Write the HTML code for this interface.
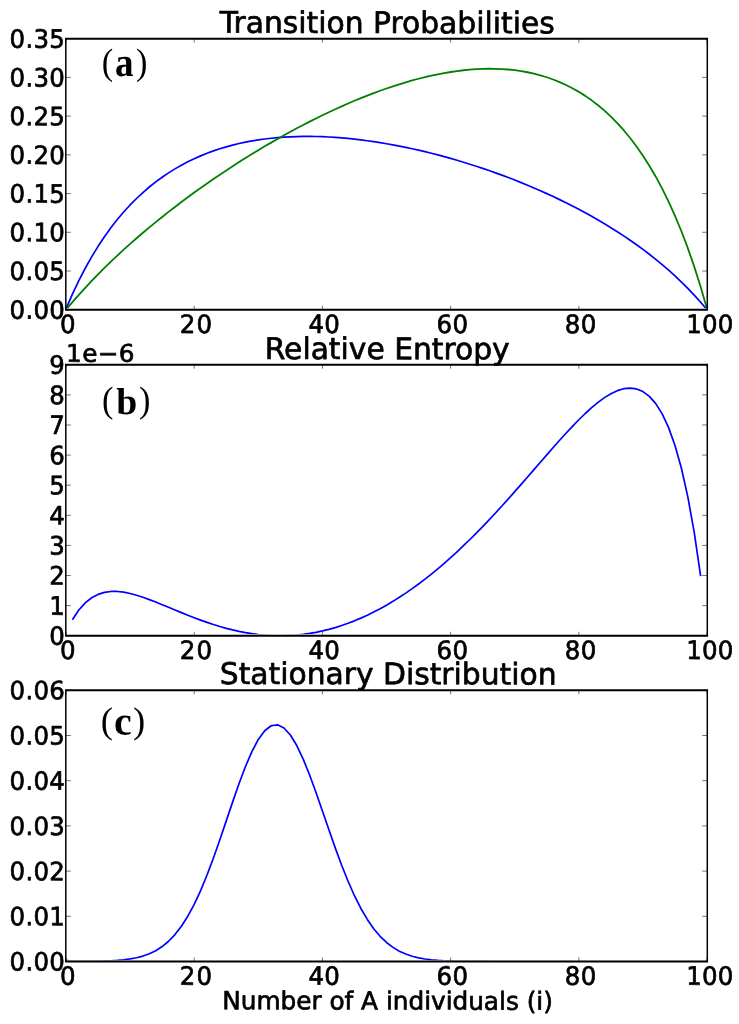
<!DOCTYPE html>
<html lang="en"><head><meta charset="utf-8"><title>Transition Probabilities, Relative Entropy, Stationary Distribution</title>
<style>html,body{margin:0;padding:0;background:#fff}body{width:739px;height:1024px;overflow:hidden}svg{display:block}text{white-space:pre;text-rendering:geometricPrecision}</style>
</head><body>
<svg width="739" height="1024" viewBox="0 0 739 1024">
<rect width="739" height="1024" fill="#fff"/>
<g class="panel">
<clipPath id="cp0"><rect x="66.00" y="38.65" width="641.05" height="269.60"/></clipPath>
<g clip-path="url(#cp0)" fill="none" stroke-width="1.70" stroke-linejoin="round" stroke-linecap="butt">
<path d="M66.00,308.98 L72.41,294.19 L78.82,280.66 L85.23,268.24 L91.64,256.84 L98.05,246.34 L104.46,236.68 L110.87,227.77 L117.28,219.56 L123.69,211.97 L130.11,204.97 L136.52,198.50 L142.93,192.52 L149.34,187.00 L155.75,181.91 L162.16,177.20 L168.57,172.86 L174.98,168.87 L181.39,165.19 L187.80,161.81 L194.21,158.70 L200.62,155.86 L207.03,153.27 L213.44,150.91 L219.85,148.77 L226.26,146.83 L232.67,145.10 L239.08,143.54 L245.49,142.16 L251.90,140.95 L258.31,139.90 L264.73,139.00 L271.14,138.25 L277.55,137.63 L283.96,137.14 L290.37,136.78 L296.78,136.54 L303.19,136.42 L309.60,136.41 L316.01,136.50 L322.42,136.70 L328.83,137.00 L335.24,137.40 L341.65,137.89 L348.06,138.47 L354.47,139.14 L360.88,139.89 L367.29,140.73 L373.70,141.64 L380.11,142.64 L386.52,143.72 L392.94,144.86 L399.35,146.09 L405.76,147.39 L412.17,148.75 L418.58,150.19 L424.99,151.70 L431.40,153.28 L437.81,154.93 L444.22,156.65 L450.63,158.43 L457.04,160.28 L463.45,162.20 L469.86,164.19 L476.27,166.25 L482.68,168.37 L489.09,170.56 L495.50,172.83 L501.91,175.16 L508.32,177.57 L514.74,180.05 L521.15,182.60 L527.56,185.23 L533.97,187.94 L540.38,190.73 L546.79,193.60 L553.20,196.56 L559.61,199.61 L566.02,202.74 L572.43,205.98 L578.84,209.31 L585.25,212.75 L591.66,216.29 L598.07,219.96 L604.48,223.74 L610.89,227.65 L617.30,231.69 L623.71,235.88 L630.12,240.23 L636.53,244.73 L642.94,249.41 L649.36,254.28 L655.77,259.36 L662.18,264.65 L668.59,270.18 L675.00,275.97 L681.41,282.04 L687.82,288.42 L694.23,295.14 L700.64,302.24 L707.05,309.75" stroke="#0000ff"/>
<path d="M66.00,309.75 L72.41,302.16 L78.82,294.85 L85.23,287.80 L91.64,280.97 L98.05,274.36 L104.46,267.94 L110.87,261.70 L117.28,255.63 L123.69,249.71 L130.11,243.94 L136.52,238.30 L142.93,232.79 L149.34,227.40 L155.75,222.12 L162.16,216.96 L168.57,211.89 L174.98,206.93 L181.39,202.06 L187.80,197.28 L194.21,192.60 L200.62,188.00 L207.03,183.48 L213.44,179.04 L219.85,174.69 L226.26,170.41 L232.67,166.21 L239.08,162.09 L245.49,158.04 L251.90,154.07 L258.31,150.17 L264.73,146.35 L271.14,142.60 L277.55,138.92 L283.96,135.32 L290.37,131.79 L296.78,128.33 L303.19,124.96 L309.60,121.65 L316.01,118.43 L322.42,115.29 L328.83,112.22 L335.24,109.24 L341.65,106.33 L348.06,103.52 L354.47,100.79 L360.88,98.14 L367.29,95.59 L373.70,93.13 L380.11,90.77 L386.52,88.50 L392.94,86.33 L399.35,84.27 L405.76,82.32 L412.17,80.48 L418.58,78.75 L424.99,77.14 L431.40,75.65 L437.81,74.30 L444.22,73.07 L450.63,71.99 L457.04,71.04 L463.45,70.25 L469.86,69.61 L476.27,69.14 L482.68,68.84 L489.09,68.72 L495.50,68.78 L501.91,69.04 L508.32,69.51 L514.74,70.19 L521.15,71.10 L527.56,72.25 L533.97,73.65 L540.38,75.31 L546.79,77.26 L553.20,79.51 L559.61,82.07 L566.02,84.97 L572.43,88.22 L578.84,91.85 L585.25,95.88 L591.66,100.34 L598.07,105.26 L604.48,110.67 L610.89,116.60 L617.30,123.10 L623.71,130.21 L630.12,137.97 L636.53,146.44 L642.94,155.67 L649.36,165.72 L655.77,176.68 L662.18,188.62 L668.59,201.63 L675.00,215.81 L681.41,231.28 L687.82,248.17 L694.23,266.63 L700.64,286.84 L707.05,308.98" stroke="#008000" stroke-width="1.8"/>
</g>
<path d="M66.00,309.75 v-4.00 M66.00,38.65 v4.00 M194.21,309.75 v-4.00 M194.21,38.65 v4.00 M322.42,309.75 v-4.00 M322.42,38.65 v4.00 M450.63,309.75 v-4.00 M450.63,38.65 v4.00 M578.84,309.75 v-4.00 M578.84,38.65 v4.00 M707.05,309.75 v-4.00 M707.05,38.65 v4.00 M65.80,309.75 h5.10 M707.30,309.75 h-5.10 M65.80,271.02 h5.10 M707.30,271.02 h-5.10 M65.80,232.29 h5.10 M707.30,232.29 h-5.10 M65.80,193.56 h5.10 M707.30,193.56 h-5.10 M65.80,154.84 h5.10 M707.30,154.84 h-5.10 M65.80,116.11 h5.10 M707.30,116.11 h-5.10 M65.80,77.38 h5.10 M707.30,77.38 h-5.10 M65.80,38.65 h5.10 M707.30,38.65 h-5.10" stroke="#000" stroke-width="0.55" fill="none"/>
<path d="M65.05,38.65 H708.05 M65.05,309.75 H708.05" stroke="#000" stroke-width="2.00" fill="none"/>
<path d="M65.80,38.65 V309.75 M707.30,38.65 V309.75" stroke="#000" stroke-width="1.50" fill="none"/>
<g font-family="'DejaVu Sans','Liberation Sans',sans-serif" font-size="25.30" fill="#000" stroke="#000" stroke-width="0.70" stroke-linejoin="round" letter-spacing="0.3">
<text transform="translate(65.20,318.85) rotate(0.10) scale(0.9660,1)" text-anchor="end">0.00</text>
<text transform="translate(65.20,280.12) rotate(0.10) scale(0.9660,1)" text-anchor="end">0.05</text>
<text transform="translate(65.20,241.39) rotate(0.10) scale(0.9660,1)" text-anchor="end">0.10</text>
<text transform="translate(65.20,202.66) rotate(0.10) scale(0.9660,1)" text-anchor="end">0.15</text>
<text transform="translate(65.20,163.94) rotate(0.10) scale(0.9660,1)" text-anchor="end">0.20</text>
<text transform="translate(65.20,125.21) rotate(0.10) scale(0.9660,1)" text-anchor="end">0.25</text>
<text transform="translate(65.20,86.48) rotate(0.10) scale(0.9660,1)" text-anchor="end">0.30</text>
<text transform="translate(65.20,47.75) rotate(0.10) scale(0.9660,1)" text-anchor="end">0.35</text>
<text transform="translate(67.80,333.00) rotate(0.10) scale(0.9660,1)" text-anchor="middle">0</text>
<text transform="translate(196.41,333.00) rotate(0.10) scale(0.9660,1)" text-anchor="middle" letter-spacing="1.10">20</text>
<text transform="translate(324.22,333.00) rotate(0.10) scale(0.9660,1)" text-anchor="middle">40</text>
<text transform="translate(452.43,333.00) rotate(0.10) scale(0.9660,1)" text-anchor="middle">60</text>
<text transform="translate(580.64,333.00) rotate(0.10) scale(0.9660,1)" text-anchor="middle">80</text>
<text transform="translate(709.95,333.00) rotate(0.10) scale(0.9660,1)" text-anchor="middle">100</text>
</g>
<text transform="translate(387.22,33.05) rotate(0.10) scale(0.9980,1)" text-anchor="middle" font-family="'DejaVu Sans','Liberation Sans',sans-serif" font-size="29.80" fill="#000" stroke="#000" stroke-width="0.70" stroke-linejoin="round">Transition Probabilities</text>
<text transform="translate(101.85,74.16) rotate(0.1) scale(0.8564,0.9264)" font-family="'Liberation Serif','DejaVu Serif',serif" font-size="40" fill="#000"><tspan x="0" y="0">(</tspan><tspan x="15.31" y="2.04" font-size="44.17" font-weight="bold" textLength="21.67" lengthAdjust="spacingAndGlyphs">a</tspan><tspan x="39.94" y="0">)</tspan></text>
</g>
<g class="panel">
<clipPath id="cp1"><rect x="66.00" y="364.75" width="641.05" height="269.50"/></clipPath>
<g clip-path="url(#cp1)" fill="none" stroke-width="1.70" stroke-linejoin="round" stroke-linecap="butt">
<path d="M72.41,619.71 L78.82,610.03 L85.23,602.86 L91.64,597.77 L98.05,594.38 L104.46,592.37 L110.87,591.47 L117.28,591.47 L123.69,592.19 L130.11,593.48 L136.52,595.21 L142.93,597.27 L149.34,599.59 L155.75,602.08 L162.16,604.68 L168.57,607.33 L174.98,610.00 L181.39,612.65 L187.80,615.24 L194.21,617.74 L200.62,620.14 L207.03,622.41 L213.44,624.54 L219.85,626.51 L226.26,628.31 L232.67,629.93 L239.08,631.37 L245.49,632.61 L251.90,633.65 L258.31,634.49 L264.73,635.12 L271.14,635.53 L277.55,635.73 L283.96,635.71 L290.37,635.47 L296.78,635.02 L303.19,634.34 L309.60,633.43 L316.01,632.30 L322.42,630.95 L328.83,629.38 L335.24,627.58 L341.65,625.55 L348.06,623.31 L354.47,620.84 L360.88,618.14 L367.29,615.22 L373.70,612.09 L380.11,608.73 L386.52,605.15 L392.94,601.35 L399.35,597.33 L405.76,593.10 L412.17,588.66 L418.58,584.00 L424.99,579.13 L431.40,574.06 L437.81,568.79 L444.22,563.31 L450.63,557.64 L457.04,551.78 L463.45,545.73 L469.86,539.50 L476.27,533.10 L482.68,526.54 L489.09,519.82 L495.50,512.96 L501.91,505.97 L508.32,498.86 L514.74,491.65 L521.15,484.36 L527.56,477.01 L533.97,469.62 L540.38,462.22 L546.79,454.84 L553.20,447.52 L559.61,440.30 L566.02,433.23 L572.43,426.36 L578.84,419.76 L585.25,413.50 L591.66,407.65 L598.07,402.33 L604.48,397.63 L610.89,393.69 L617.30,390.66 L623.71,388.72 L630.12,388.06 L636.53,388.92 L642.94,391.58 L649.36,396.36 L655.77,403.65 L662.18,413.90 L668.59,427.64 L675.00,445.52 L681.41,468.29 L687.82,496.86 L694.23,532.34 L700.64,576.02" stroke="#0000ff"/>
</g>
<path d="M66.00,635.75 v-4.00 M66.00,364.75 v4.00 M194.21,635.75 v-4.00 M194.21,364.75 v4.00 M322.42,635.75 v-4.00 M322.42,364.75 v4.00 M450.63,635.75 v-4.00 M450.63,364.75 v4.00 M578.84,635.75 v-4.00 M578.84,364.75 v4.00 M707.05,635.75 v-4.00 M707.05,364.75 v4.00 M65.80,635.75 h5.10 M707.30,635.75 h-5.10 M65.80,605.64 h5.10 M707.30,605.64 h-5.10 M65.80,575.53 h5.10 M707.30,575.53 h-5.10 M65.80,545.42 h5.10 M707.30,545.42 h-5.10 M65.80,515.31 h5.10 M707.30,515.31 h-5.10 M65.80,485.19 h5.10 M707.30,485.19 h-5.10 M65.80,455.08 h5.10 M707.30,455.08 h-5.10 M65.80,424.97 h5.10 M707.30,424.97 h-5.10 M65.80,394.86 h5.10 M707.30,394.86 h-5.10 M65.80,364.75 h5.10 M707.30,364.75 h-5.10" stroke="#000" stroke-width="0.55" fill="none"/>
<path d="M65.05,364.75 H708.05 M65.05,635.75 H708.05" stroke="#000" stroke-width="2.00" fill="none"/>
<path d="M65.80,364.75 V635.75 M707.30,364.75 V635.75" stroke="#000" stroke-width="1.50" fill="none"/>
<g font-family="'DejaVu Sans','Liberation Sans',sans-serif" font-size="25.30" fill="#000" stroke="#000" stroke-width="0.70" stroke-linejoin="round" letter-spacing="0.3">
<text transform="translate(65.20,644.85) rotate(0.10) scale(0.9660,1)" text-anchor="end">0</text>
<text transform="translate(65.20,614.74) rotate(0.10) scale(0.9660,1)" text-anchor="end">1</text>
<text transform="translate(65.20,584.63) rotate(0.10) scale(0.9660,1)" text-anchor="end">2</text>
<text transform="translate(65.20,554.52) rotate(0.10) scale(0.9660,1)" text-anchor="end">3</text>
<text transform="translate(65.20,524.41) rotate(0.10) scale(0.9660,1)" text-anchor="end">4</text>
<text transform="translate(65.20,494.29) rotate(0.10) scale(0.9660,1)" text-anchor="end">5</text>
<text transform="translate(65.20,464.18) rotate(0.10) scale(0.9660,1)" text-anchor="end">6</text>
<text transform="translate(65.20,434.07) rotate(0.10) scale(0.9660,1)" text-anchor="end">7</text>
<text transform="translate(65.20,403.96) rotate(0.10) scale(0.9660,1)" text-anchor="end">8</text>
<text transform="translate(65.20,373.85) rotate(0.10) scale(0.9660,1)" text-anchor="end">9</text>
<text transform="translate(67.80,659.00) rotate(0.10) scale(0.9660,1)" text-anchor="middle">0</text>
<text transform="translate(196.41,659.00) rotate(0.10) scale(0.9660,1)" text-anchor="middle" letter-spacing="1.10">20</text>
<text transform="translate(324.22,659.00) rotate(0.10) scale(0.9660,1)" text-anchor="middle">40</text>
<text transform="translate(452.43,659.00) rotate(0.10) scale(0.9660,1)" text-anchor="middle">60</text>
<text transform="translate(580.64,659.00) rotate(0.10) scale(0.9660,1)" text-anchor="middle">80</text>
<text transform="translate(709.95,659.00) rotate(0.10) scale(0.9660,1)" text-anchor="middle">100</text>
<text transform="translate(66.10,361.65) rotate(0.10) scale(1.0170,1)" font-size="24.3">1e−6</text>
</g>
<text transform="translate(387.22,359.15) rotate(0.10) scale(0.9980,1)" text-anchor="middle" font-family="'DejaVu Sans','Liberation Sans',sans-serif" font-size="29.80" fill="#000" stroke="#000" stroke-width="0.70" stroke-linejoin="round">Relative Entropy</text>
<text transform="translate(102.05,411.91) rotate(0.1) scale(0.8564,0.9209)" font-family="'Liberation Serif','DejaVu Serif',serif" font-size="40" fill="#000"><tspan x="0" y="0">(</tspan><tspan x="16.49" y="2.25" font-size="40.59" font-weight="bold" textLength="24.54" lengthAdjust="spacingAndGlyphs">b</tspan><tspan x="43.21" y="0">)</tspan></text>
</g>
<g class="panel">
<clipPath id="cp2"><rect x="66.00" y="690.30" width="641.05" height="269.95"/></clipPath>
<g clip-path="url(#cp2)" fill="none" stroke-width="1.70" stroke-linejoin="round" stroke-linecap="butt">
<path d="M66.00,960.42 L72.41,961.39 L78.82,961.38 L85.23,961.35 L91.64,961.28 L98.05,961.17 L104.46,961.00 L110.87,960.74 L117.28,960.35 L123.69,959.77 L130.11,958.94 L136.52,957.74 L142.93,956.06 L149.34,953.76 L155.75,950.66 L162.16,946.57 L168.57,941.27 L174.98,934.57 L181.39,926.27 L187.80,916.22 L194.21,904.32 L200.62,890.56 L207.03,875.05 L213.44,858.00 L219.85,839.78 L226.26,820.87 L232.67,801.89 L239.08,783.52 L245.49,766.50 L251.90,751.59 L258.31,739.47 L264.73,730.71 L271.14,725.75 L277.55,724.82 L283.96,727.96 L290.37,734.98 L296.78,745.53 L303.19,759.07 L309.60,774.96 L316.01,792.49 L322.42,810.93 L328.83,829.59 L335.24,847.86 L341.65,865.21 L348.06,881.26 L354.47,895.73 L360.88,908.47 L367.29,919.44 L373.70,928.68 L380.11,936.31 L386.52,942.47 L392.94,947.36 L399.35,951.16 L405.76,954.06 L412.17,956.23 L418.58,957.83 L424.99,958.98 L431.40,959.80 L437.81,960.37 L444.22,960.76 L450.63,961.02 L457.04,961.20 L463.45,961.31 L469.86,961.38 L476.27,961.43 L482.68,961.46 L489.09,961.48 L495.50,961.49 L501.91,961.49 L508.32,961.50 L514.74,961.50 L521.15,961.50 L527.56,961.50 L533.97,961.50 L540.38,961.50 L546.79,961.50 L553.20,961.50 L559.61,961.50 L566.02,961.50 L572.43,961.50 L578.84,961.50 L585.25,961.50 L591.66,961.50 L598.07,961.50 L604.48,961.50 L610.89,961.50 L617.30,961.50 L623.71,961.50 L630.12,961.50 L636.53,961.50 L642.94,961.50 L649.36,961.50 L655.77,961.50 L662.18,961.50 L668.59,961.50 L675.00,961.50 L681.41,961.50 L687.82,961.50 L694.23,961.50 L700.64,961.50 L707.05,961.50" stroke="#0000ff"/>
</g>
<path d="M66.00,961.50 v-4.00 M66.00,690.30 v4.00 M194.21,961.50 v-4.00 M194.21,690.30 v4.00 M322.42,961.50 v-4.00 M322.42,690.30 v4.00 M450.63,961.50 v-4.00 M450.63,690.30 v4.00 M578.84,961.50 v-4.00 M578.84,690.30 v4.00 M707.05,961.50 v-4.00 M707.05,690.30 v4.00 M65.80,961.50 h5.10 M707.30,961.50 h-5.10 M65.80,916.30 h5.10 M707.30,916.30 h-5.10 M65.80,871.10 h5.10 M707.30,871.10 h-5.10 M65.80,825.90 h5.10 M707.30,825.90 h-5.10 M65.80,780.70 h5.10 M707.30,780.70 h-5.10 M65.80,735.50 h5.10 M707.30,735.50 h-5.10 M65.80,690.30 h5.10 M707.30,690.30 h-5.10" stroke="#000" stroke-width="0.55" fill="none"/>
<path d="M65.05,690.30 H708.05 M65.05,961.50 H708.05" stroke="#000" stroke-width="2.00" fill="none"/>
<path d="M65.80,690.30 V961.50 M707.30,690.30 V961.50" stroke="#000" stroke-width="1.50" fill="none"/>
<g font-family="'DejaVu Sans','Liberation Sans',sans-serif" font-size="25.30" fill="#000" stroke="#000" stroke-width="0.70" stroke-linejoin="round" letter-spacing="0.3">
<text transform="translate(65.20,970.60) rotate(0.10) scale(0.9660,1)" text-anchor="end">0.00</text>
<text transform="translate(65.20,925.40) rotate(0.10) scale(0.9660,1)" text-anchor="end">0.01</text>
<text transform="translate(65.20,880.20) rotate(0.10) scale(0.9660,1)" text-anchor="end">0.02</text>
<text transform="translate(65.20,835.00) rotate(0.10) scale(0.9660,1)" text-anchor="end">0.03</text>
<text transform="translate(65.20,789.80) rotate(0.10) scale(0.9660,1)" text-anchor="end">0.04</text>
<text transform="translate(65.20,744.60) rotate(0.10) scale(0.9660,1)" text-anchor="end">0.05</text>
<text transform="translate(65.20,699.40) rotate(0.10) scale(0.9660,1)" text-anchor="end">0.06</text>
<text transform="translate(67.80,984.75) rotate(0.10) scale(0.9660,1)" text-anchor="middle">0</text>
<text transform="translate(196.41,984.75) rotate(0.10) scale(0.9660,1)" text-anchor="middle" letter-spacing="1.10">20</text>
<text transform="translate(324.22,984.75) rotate(0.10) scale(0.9660,1)" text-anchor="middle">40</text>
<text transform="translate(452.43,984.75) rotate(0.10) scale(0.9660,1)" text-anchor="middle">60</text>
<text transform="translate(580.64,984.75) rotate(0.10) scale(0.9660,1)" text-anchor="middle">80</text>
<text transform="translate(709.95,984.75) rotate(0.10) scale(0.9660,1)" text-anchor="middle">100</text>
</g>
<text transform="translate(388.12,684.20) rotate(0.10) scale(0.9980,1)" text-anchor="middle" font-family="'DejaVu Sans','Liberation Sans',sans-serif" font-size="29.80" fill="#000" stroke="#000" stroke-width="0.70" stroke-linejoin="round">Stationary Distribution</text>
<text transform="translate(100.84,732.71) rotate(0.1) scale(0.9148,0.9209)" font-family="'Liberation Serif','DejaVu Serif',serif" font-size="40" fill="#000"><tspan x="0" y="0">(</tspan><tspan x="14.48" y="1.92" font-size="43.84" font-weight="bold" textLength="19.30" lengthAdjust="spacingAndGlyphs">c</tspan><tspan x="35.12" y="0">)</tspan></text>
</g>
<text transform="translate(387.52,1009.50) rotate(0.10) scale(0.9890,1)" text-anchor="middle" font-family="'DejaVu Sans','Liberation Sans',sans-serif" font-size="25.00" fill="#000" stroke="#000" stroke-width="0.70" stroke-linejoin="round">Number of A individuals (i)</text>
</svg>
</body></html>
